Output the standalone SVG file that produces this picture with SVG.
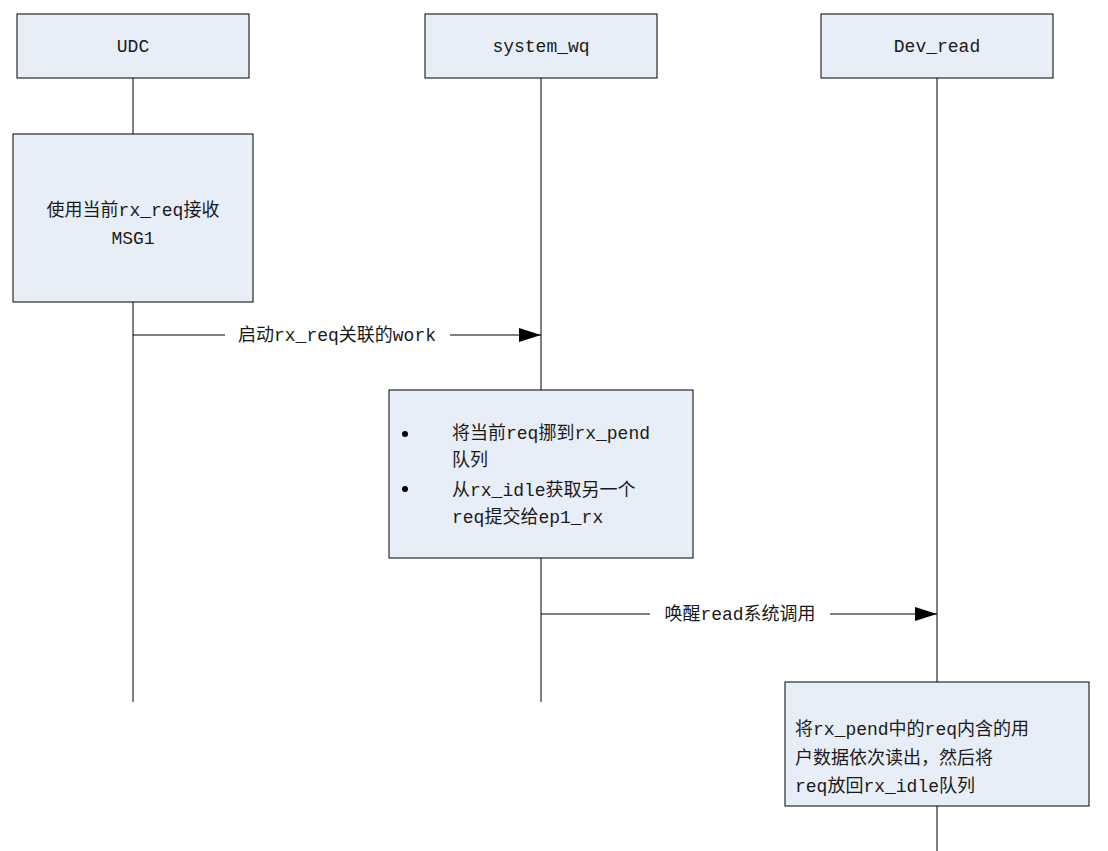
<svg xmlns="http://www.w3.org/2000/svg" width="1108" height="851" viewBox="0 0 1108 851">
<style>
.box{fill:#E8EEF7;stroke:#000;stroke-width:1}
.ln{stroke:#000;stroke-width:1;fill:none}
text{font-family:"Liberation Mono","Noto Sans CJK SC",monospace;font-size:18px;fill:#1a1a1a}
.c{text-anchor:middle}
</style>
<defs>
<marker id="ah" markerWidth="22" markerHeight="14" refX="22" refY="7" orient="auto" markerUnits="userSpaceOnUse">
<path d="M0,0 L22,7 L0,14 Z" fill="#000"/>
</marker>
</defs>
<rect width="1108" height="851" fill="#fff"/>
<g id="lifelines">
<line class="ln" x1="133" y1="78" x2="133" y2="702"/>
<line class="ln" x1="541" y1="78" x2="541" y2="702"/>
<line class="ln" x1="937" y1="78" x2="937" y2="851"/>
</g>
<g id="udc"><rect class="box" x="17" y="14" width="232" height="64"/><text class="c" x="133" y="52">UDC</text></g>
<g id="system_wq"><rect class="box" x="425" y="14" width="232" height="64"/><text class="c" x="541" y="52">system_wq</text></g>
<g id="dev_read"><rect class="box" x="821" y="14" width="232" height="64"/><text class="c" x="937" y="52">Dev_read</text></g>
<g id="note1"><rect class="box" x="13" y="134" width="240" height="168"/>
<text class="c" x="133" y="216">使用当前rx_req接收</text><text class="c" x="133" y="244">MSG1</text></g>
<g id="note2"><rect class="box" x="389" y="390" width="304" height="168"/>
<circle cx="405" cy="434" r="3" fill="#000"/><circle cx="405" cy="489" r="3" fill="#000"/>
<text x="452" y="439">将当前req挪到rx_pend</text><text x="452" y="466">队列</text>
<text x="452" y="496">从rx_idle获取另一个</text><text x="452" y="523">req提交给ep1_rx</text></g>
<g id="note3"><rect class="box" x="785" y="682" width="304" height="124"/>
<text x="795" y="735">将rx_pend中的req内含的用</text><text x="795" y="764">户数据依次读出，然后将</text><text x="795" y="792">req放回rx_idle队列</text></g>
<g id="connectors">
<line class="ln" x1="133" y1="335" x2="541" y2="335" marker-end="url(#ah)"/>
<rect x="225" y="323" width="225" height="24" fill="#fff"/>
<text class="c" x="337" y="341">启动rx_req关联的work</text>
<line class="ln" x1="541" y1="614" x2="937" y2="614" marker-end="url(#ah)"/>
<rect x="650" y="602" width="180" height="24" fill="#fff"/>
<text class="c" x="740" y="620">唤醒read系统调用</text>
</g>
</svg>
